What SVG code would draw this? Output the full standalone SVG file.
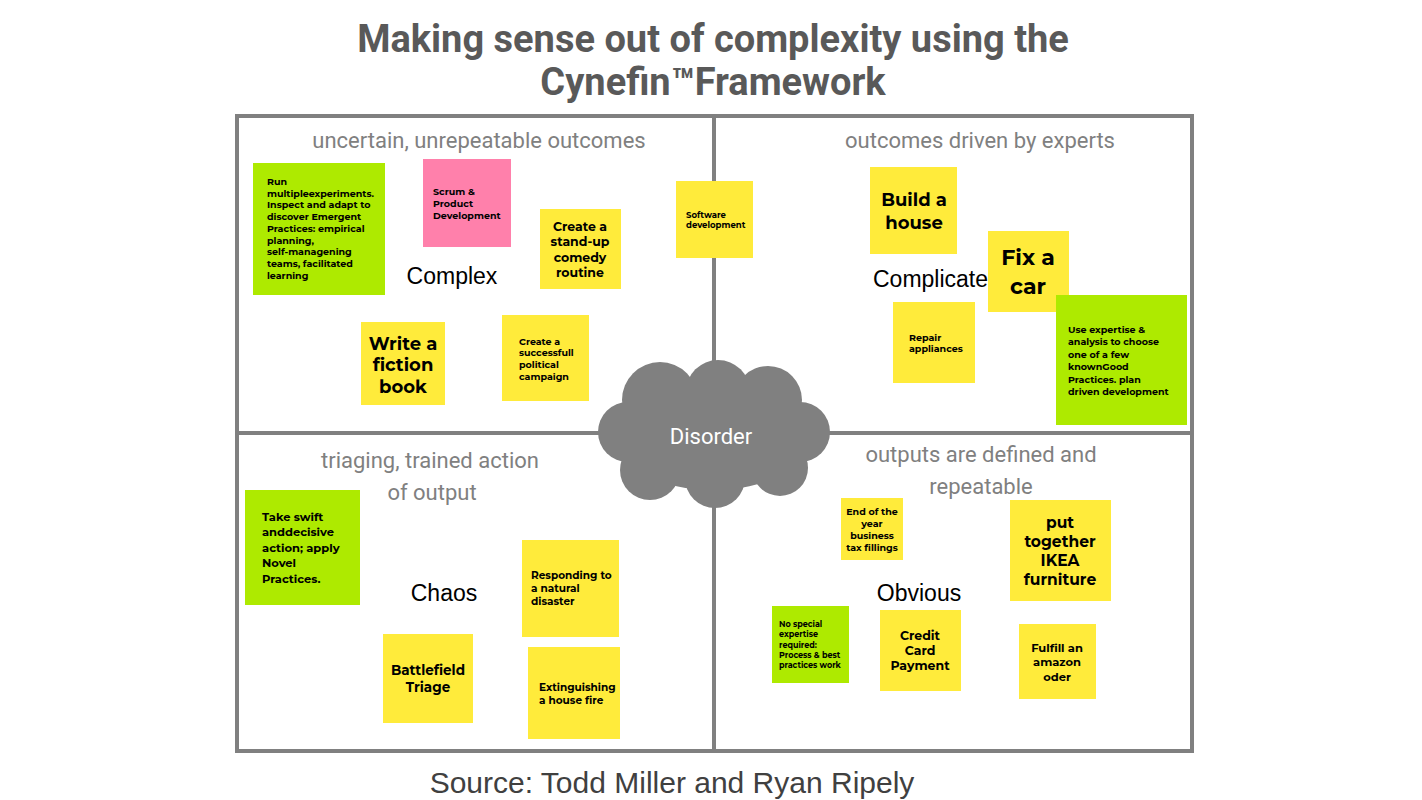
<svg xmlns="http://www.w3.org/2000/svg" width="1422" height="800" viewBox="0 0 1422 800">
<style>
.t{font-family:"Roboto","Liberation Sans",sans-serif;font-weight:bold;fill:#595959;font-size:38px;text-anchor:middle}
.h{font-family:"Roboto","Liberation Sans",sans-serif;fill:#808080;font-size:22px;text-anchor:middle}
.d{font-family:"Liberation Sans",sans-serif;fill:#000;font-size:23px;text-anchor:middle}
.n{font-family:"Montserrat","DejaVu Sans","Liberation Sans",sans-serif;font-weight:bold;fill:#000}
.c{text-anchor:middle}
.y{fill:#ffeb3b}.g{fill:#aeea00}.p{fill:#ff80ab}
.grid{fill:none;stroke:#808080;stroke-width:4}
</style>
<rect width="1422" height="800" fill="#fff"/>
<text class="t" x="713" y="52">Making sense out of complexity using the</text>
<text class="t" x="713" y="95">Cynefin™Framework</text>
<g id="grid">
<rect class="grid" x="237" y="116" width="955" height="635"/>
<line class="grid" x1="714" y1="116" x2="714" y2="751"/>
<line class="grid" x1="237" y1="433" x2="1192" y2="433"/>
</g>
<text class="h" x="479" y="148">uncertain, unrepeatable outcomes</text>
<text class="h" x="980" y="148">outcomes driven by experts</text>
<text class="h" x="430" y="468">triaging, trained action</text>
<text class="h" x="432" y="500">of output</text>
<text class="h" x="981" y="462">outputs are defined and</text>
<text class="h" x="981" y="494">repeatable</text>
<g id="n1"><rect class="g" x="253" y="163" width="132" height="132"/>
<text class="n" font-size="9.5" x="267"><tspan x="267" y="185">Run</tspan><tspan x="267" y="197">multipleexperiments.</tspan><tspan x="267" y="208">Inspect and adapt to</tspan><tspan x="267" y="220">discover Emergent</tspan><tspan x="267" y="232">Practices: empirical</tspan><tspan x="267" y="244">planning,</tspan><tspan x="267" y="255">self-managening</tspan><tspan x="267" y="267">teams, facilitated</tspan><tspan x="267" y="279">learning</tspan></text></g>
<g id="n2"><rect class="p" x="423" y="159" width="88" height="88"/>
<text class="n" font-size="9.5"><tspan x="433" y="195">Scrum &amp;</tspan><tspan x="433" y="207">Product</tspan><tspan x="433" y="219">Development</tspan></text></g>
<g id="n3"><rect class="y" x="540" y="209" width="81" height="80"/>
<text class="n c" font-size="12.5"><tspan x="580" y="231">Create a</tspan><tspan x="580" y="246">stand-up</tspan><tspan x="580" y="262">comedy</tspan><tspan x="580" y="277">routine</tspan></text></g>
<g id="n4"><rect class="y" x="676" y="181" width="77" height="77"/>
<text class="n" font-size="8.5"><tspan x="686" y="218">Software</tspan><tspan x="686" y="228">development</tspan></text></g>
<text class="d" x="452" y="284">Complex</text>
<g id="n5"><rect class="y" x="361" y="322" width="84" height="83"/>
<text class="n c" font-size="18"><tspan x="403" y="350">Write a</tspan><tspan x="403" y="371">fiction</tspan><tspan x="403" y="393">book</tspan></text></g>
<g id="n6"><rect class="y" x="502" y="315" width="87" height="86"/>
<text class="n" font-size="9.5"><tspan x="519" y="345">Create a</tspan><tspan x="519" y="356">successfull</tspan><tspan x="519" y="368">political</tspan><tspan x="519" y="380">campaign</tspan></text></g>
<g id="n7"><rect class="y" x="870" y="167" width="87" height="87"/>
<text class="n c" font-size="18"><tspan x="914" y="206">Build a</tspan><tspan x="914" y="229">house</tspan></text></g>
<text class="d" x="873" y="287" text-anchor="start" style="text-anchor:start">Complicated</text>
<g id="n9"><rect class="y" x="988" y="231" width="81" height="81"/>
<text class="n c" font-size="22"><tspan x="1028" y="265">Fix a</tspan><tspan x="1028" y="294">car</tspan></text></g>
<g id="n10"><rect class="g" x="1056" y="295" width="131" height="130"/>
<text class="n" font-size="9.5"><tspan x="1068" y="333">Use expertise &amp;</tspan><tspan x="1068" y="345">analysis to choose</tspan><tspan x="1068" y="358">one of a few</tspan><tspan x="1068" y="370">knownGood</tspan><tspan x="1068" y="383">Practices. plan</tspan><tspan x="1068" y="395">driven development</tspan></text></g>
<g id="n11"><rect class="y" x="893" y="302" width="82" height="81"/>
<text class="n" font-size="9.5"><tspan x="909" y="341">Repair</tspan><tspan x="909" y="352">appliances</tspan></text></g>
<g id="disorder" fill="#808080">
<ellipse cx="713" cy="440" rx="95" ry="50"/>
<circle cx="660" cy="400" r="38"/><circle cx="718" cy="392" r="32"/><circle cx="768" cy="400" r="34"/>
<circle cx="800" cy="432" r="30"/><circle cx="628" cy="432" r="30"/><circle cx="650" cy="470" r="30"/>
<circle cx="715" cy="478" r="30"/><circle cx="780" cy="468" r="28"/>
<text x="711" y="444" font-family="Roboto,'Liberation Sans',sans-serif" font-size="22" fill="#fff" text-anchor="middle">Disorder</text>
</g>
<g id="n12"><rect class="g" x="245" y="490" width="115" height="115"/>
<text class="n" font-size="11.5"><tspan x="262" y="521">Take swift</tspan><tspan x="262" y="536">anddecisive</tspan><tspan x="262" y="552">action; apply</tspan><tspan x="262" y="567">Novel</tspan><tspan x="262" y="583">Practices.</tspan></text></g>
<text class="d" x="444" y="601">Chaos</text>
<g id="n14"><rect class="y" x="522" y="540" width="97" height="97"/>
<text class="n" font-size="10.5"><tspan x="531" y="579">Responding to</tspan><tspan x="531" y="592">a natural</tspan><tspan x="531" y="605">disaster</tspan></text></g>
<g id="n15"><rect class="y" x="383" y="634" width="90" height="89"/>
<text class="n c" font-size="13.5"><tspan x="428" y="675">Battlefield</tspan><tspan x="428" y="692">Triage</tspan></text></g>
<g id="n16"><rect class="y" x="528" y="647" width="92" height="92"/>
<text class="n" font-size="10.5"><tspan x="539" y="691">Extinguishing</tspan><tspan x="539" y="704">a house fire</tspan></text></g>
<g id="n17"><rect class="y" x="841" y="498" width="62" height="62"/>
<text class="n c" font-size="9.5"><tspan x="872" y="515">End of the</tspan><tspan x="872" y="527">year</tspan><tspan x="872" y="539">business</tspan><tspan x="872" y="551">tax fillings</tspan></text></g>
<g id="n18"><rect class="y" x="1010" y="500" width="101" height="101"/>
<text class="n c" font-size="15.5"><tspan x="1060" y="528">put</tspan><tspan x="1060" y="547">together</tspan><tspan x="1060" y="566">IKEA</tspan><tspan x="1060" y="585">furniture</tspan></text></g>
<text class="d" x="919" y="601">Obvious</text>
<g id="n20"><rect class="g" x="772" y="606" width="77" height="77"/>
<text class="n" font-size="8"><tspan x="779" y="627">No special</tspan><tspan x="779" y="637">expertise</tspan><tspan x="779" y="648">required:</tspan><tspan x="779" y="658">Process &amp; best</tspan><tspan x="779" y="668">practices work</tspan></text></g>
<g id="n21"><rect class="y" x="880" y="610" width="81" height="81"/>
<text class="n c" font-size="12.5"><tspan x="920" y="640">Credit</tspan><tspan x="920" y="655">Card</tspan><tspan x="920" y="670">Payment</tspan></text></g>
<g id="n22"><rect class="y" x="1019" y="624" width="77" height="75"/>
<text class="n c" font-size="11.5"><tspan x="1057" y="652">Fulfill an</tspan><tspan x="1057" y="666">amazon</tspan><tspan x="1057" y="681">oder</tspan></text></g>
<text x="672" y="793" font-family="'Liberation Sans',sans-serif" font-size="30" fill="#404040" text-anchor="middle">Source: Todd Miller and Ryan Ripely</text>
</svg>
